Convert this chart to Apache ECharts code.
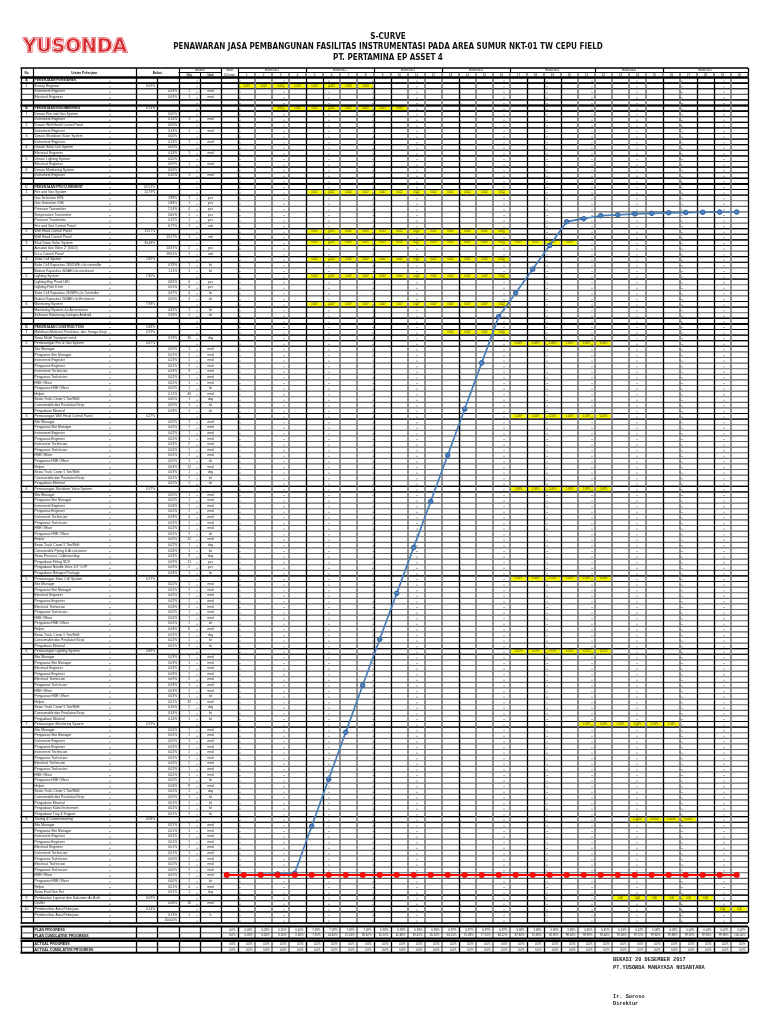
<!DOCTYPE html>
<html><head><meta charset="utf-8">
<script src="https://cdn.jsdelivr.net/npm/echarts@6.0.0/dist/echarts.min.js"></script>
<style>html,body{margin:0;padding:0;background:#fff}#c{width:768px;height:1024px}</style>
</head><body><div id="c"></div>
<script>
// ---------- chart data ----------
const weekLabels = ['1','2','3','4','5','6','7','8','9','10','11','12','13','14','15','16','17','18','19','20','21','22','23','24','25','26','27','28','29','30'];
const categories = ['Start'].concat(weekLabels);
const planProgress = [0.00,0.03,0.03,0.10,0.10,7.09,7.09,7.09,7.09,6.93,6.93,6.93,6.93,6.97,6.97,6.97,6.97,3.58,3.58,3.58,3.58,0.45,0.45,0.14,0.14,0.08,0.08,0.04,0.04,0.02,0.02];
const planCumulative = [0.00,0.03,0.06,0.16,0.26,7.35,14.44,21.53,28.62,35.55,42.48,49.41,56.34,63.31,70.28,77.25,84.22,87.80,91.38,94.96,98.54,98.99,99.44,99.58,99.72,99.80,99.88,99.92,99.96,99.98,100.00];
const actualProgress = [0,0,0,0,0,0,0,0,0,0,0,0,0,0,0,0,0,0,0,0,0,0,0,0,0,0,0,0,0,0,0];
const actualCumulative = [0,0,0,0,0,0,0,0,0,0,0,0,0,0,0,0,0,0,0,0,0,0,0,0,0,0,0,0,0,0,0];
const months = ['Bulan ke-1','Bulan ke-2','Bulan ke-3','Bulan ke-4','Bulan ke-5','Bulan ke-6','Bulan ke-7'];
const monthWeeks = [4,4,4,4,5,4,5];
const titleLines = ['S-CURVE','PENAWARAN JASA PEMBANGUNAN FASILITAS INSTRUMENTASI PADA AREA SUMUR NKT-01 TW CEPU FIELD','PT. PERTAMINA EP ASSET 4'];
const headerTexts = {no:'No', uraian:'Uraian Pekerjaan', bobot:'Bobot', volume:'Volume', qty:'Qty', unit:'Unit', start:'Start', scurve:'S-Curve'};
const summaryLabels = ['PLAN PROGRESS','PLAN CUMULATIVE PROGRESS','ACTUAL PROGRESS','ACTUAL CUMULATIVE PROGRESS'];
const signText = ['BEKASI 20 DESEMBER 2017','PT.YUSONDA MANAYASA NUSANTARA','Ir. Suroso','Direktur'];

// ---------- table content ----------
const crewFG = [['Site Manager','0.02%','1','mnd'],['Pengawas Site Manager','0.02%','1','mnd'],['Instrument Engineer','0.03%','1','mnd'],['Pengawas Engineer','0.02%','1','mnd'],['Instrument Technician','0.03%','3','mnd'],['Pengawas Technician','0.02%','1','mnd'],['HSE Officer','0.02%','1','mnd'],['Pengawas HSE Officer','0.02%','1','lot'],['Helper','0.11%','40','mnd'],['Sewa Truck Crane 5 Ton/Shift','0.05%','1','day'],['Consumable dan Peralatan Kerja','0.05%','1','lot'],['Pengadaan Material','0.03%','1','lot']];
const crewWH = [['Site Manager','0.02%','1','mnd'],['Pengawas Site Manager','0.02%','1','mnd'],['Instrument Engineer','0.02%','1','mnd'],['Pengawas Engineer','0.02%','1','mnd'],['Instrument Technician','0.03%','2','mnd'],['Pengawas Technician','0.02%','1','mnd'],['HSE Officer','0.02%','1','mnd'],['Pengawas HSE Officer','0.02%','1','lot'],['Helper','0.04%','12','mnd'],['Sewa Truck Crane 5 Ton/Shift','0.03%','1','day'],['Consumable dan Peralatan Kerja','0.02%','1','lot'],['Pengadaan Material','0.01%','1','lot']];
const crewSDV = [['Site Manager','0.02%','1','mnd'],['Pengawas Site Manager','0.02%','1','mnd'],['Instrument Engineer','0.03%','1','mnd'],['Pengawas Engineer','0.02%','1','mnd'],['Instrument Technician','0.03%','4','mnd'],['Pengawas Technician','0.02%','1','mnd'],['HSE Officer','0.02%','1','mnd'],['Pengawas HSE Officer','0.02%','1','lot'],['Helper','0.05%','12','mnd'],['Sewa Truck Crane 5 Ton/Shift','0.02%','1','day'],['Consumable Piping & Accessories','0.04%','1','lot'],['Sewa Pressure Calibrator/day','0.03%','3','day'],['Pengadaan Fitting SDV','0.09%','11','pcs'],['Pengadaan Needle Valve 1/2" LOP','0.03%','2','pcs'],['Pengadaan Nitrogen Package','0.03%','1','lot']];
const crewSC = [['Site Manager','0.02%','1','mnd'],['Pengawas Site Manager','0.02%','1','mnd'],['Electrical Engineer','0.02%','1','mnd'],['Pengawas Engineer','0.02%','1','mnd'],['Electrical Technician','0.03%','2','mnd'],['Pengawas Technician','0.02%','1','mnd'],['HSE Officer','0.02%','1','mnd'],['Pengawas HSE Officer','0.02%','1','lot'],['Helper','0.04%','8','mnd'],['Sewa Truck Crane 5 Ton/Shift','0.02%','1','day'],['Consumable dan Peralatan Kerja','0.02%','1','lot'],['Pengadaan Material','0.02%','1','lot']];
const crewLT = [['Site Manager','0.03%','1','mnd'],['Pengawas Site Manager','0.03%','1','mnd'],['Electrical Engineer','0.03%','1','mnd'],['Pengawas Engineer','0.03%','1','mnd'],['Electrical Technician','0.09%','5','mnd'],['Pengawas Technician','0.03%','1','mnd'],['HSE Officer','0.03%','1','mnd'],['Pengawas HSE Officer','0.03%','1','lot'],['Helper','0.21%','32','mnd'],['Sewa Truck Crane 5 Ton/Shift','0.10%','2','day'],['Consumable dan Peralatan Kerja','0.14%','1','lot'],['Pengadaan Material','0.14%','1','lot']];
const crewMON = [['Site Manager','0.02%','1','mnd'],['Pengawas Site Manager','0.02%','1','mnd'],['Instrument Engineer','0.02%','1','mnd'],['Pengawas Engineer','0.02%','1','mnd'],['Instrument Technician','0.02%','2','mnd'],['Pengawas Technician','0.02%','1','mnd'],['Electrical Technician','0.02%','2','mnd'],['Pengawas Technician','0.01%','1','mnd'],['HSE Officer','0.02%','1','mnd'],['Pengawas HSE Officer','0.02%','1','lot'],['Helper','0.03%','8','mnd'],['Sewa Truck Crane 5 Ton/Shift','0.02%','1','day'],['Consumable dan Peralatan Kerja','0.02%','1','lot'],['Pengadaan Material','0.01%','1','lot'],['Pengadaan Kabel Instrument','0.01%','1','lot'],['Pengadaan Tray & Support','0.01%','1','lot']];
const crewTC = [['Site Manager','0.01%','1','mnd'],['Pengawas Site Manager','0.01%','1','mnd'],['Instrument Engineer','0.01%','1','mnd'],['Pengawas Engineer','0.01%','1','mnd'],['Electrical Engineer','0.01%','1','mnd'],['Instrument Technician','0.01%','1','mnd'],['Pengawas Technician','0.00%','1','mnd'],['Electrical Technician','0.01%','1','mnd'],['Pengawas Technician','0.00%','1','mnd'],['HSE Officer','0.01%','1','mnd'],['Pengawas HSE Officer','0.00%','1','lot'],['Helper','0.01%','4','mnd'],['Sewa Fuel Gen Set','0.01%','1','day']];

const L = a => ['', a[0], '', a[1], a[2], a[3], 'L'];
const tableRows = [].concat(
 [['A','PEKERJAAN PERSIAPAN','','','','','S'],
  ['1','Survey Engineer','0.09%','','','','I'],
  ['','Instrument Engineer','','0.03%','1','mnd','L'],
  ['','Electrical Engineer','','0.03%','1','mnd','L'],
  ['','','','','','','B'],
  ['B','PEKERJAAN ENGINEERING','0.74%','','','','S'],
  ['1','Desain Fire and Gas System','','0.00%','','','I'],
  ['','Instrument Engineer','','0.14%','1','mnd','L'],
  ['2','Desain Well Head Control Panel','','0.00%','','','I'],
  ['','Instrument Engineer','','0.14%','1','mnd','L'],
  ['3','Desain Shutdown Valve System','','0.00%','','','I'],
  ['','Instrument Engineer','','0.14%','1','mnd','L'],
  ['4','Desain Solar Cell System','','0.00%','','','I'],
  ['','Electrical Engineer','','0.14%','1','mnd','L'],
  ['5','Desain Lighting System','','0.00%','','','I'],
  ['','Electrical Engineer','','0.09%','1','mnd','L'],
  ['6','Desain Monitoring System','','0.00%','','','I'],
  ['','Instrument Engineer','','0.10%','1','mnd','L'],
  ['','','','','','','B'],
  ['C','PEKERJAAN PROCUREMENT','65.52%','','','','S'],
  ['1','Fire and Gas System','14.79%','','','','I'],
  ['','Gas Detection H2S','','2.88%','1','pcs','L'],
  ['','Gas Detection CH4','','2.88%','1','pcs','L'],
  ['','Pressure Transmitter','','1.54%','4','pcs','L'],
  ['','Temperature Transmitter','','0.60%','1','pcs','L'],
  ['','Pressure Transmitter','','0.12%','1','pcs','L'],
  ['','Fire and Gas Control Panel','','6.77%','1','unit','L'],
  ['2','Well Head Control Panel','13.17%','','','','I'],
  ['','Well Head Control Panel','','13.17%','1','unit','L'],
  ['3','Shut Down Valve System','30.48%','','','','I'],
  ['','Actuator dan Valve 2" (600#)','','10.87%','2','pcs','L'],
  ['','In Lo Control Panel','','19.61%','1','unit','L'],
  ['4','Solar Cell System','1.89%','','','','I'],
  ['','Solar Cell Kapasitas 1800 W/h c/w controller','','0.78%','1','lot','L'],
  ['','Baterai Kapasitas 400AH c/w enclosure','','1.11%','1','lot','L'],
  ['5','Lighting System','2.30%','','','','I'],
  ['','Lighting Exp Proof LED','','0.82%','4','pcs','L'],
  ['','Lighting Pole 6 mtr','','0.51%','4','pcs','L'],
  ['','Solar Cell Kapasitas 260W/h c/w Controller','','0.47%','4','lot','L'],
  ['','Baterai Kapasitas 200AH c/w Enclosure','','0.50%','4','lot','L'],
  ['6','Monitoring System','7.88%','','','','I'],
  ['','Monitoring System c/w Accessories','','4.62%','1','lot','L'],
  ['','Software Monitoring Jaringan Android','','3.26%','1','lot','L'],
  ['','','','','','','B'],
  ['D','PEKERJAAN CONSTRUCTION','5.68%','','','','S'],
  ['1','Mobilisasi Material, Peralatan, dan Tenaga Kerja','0.29%','','','','I'],
  ['','Sewa Mobil Transport untuk','','0.29%','30','day','L'],
  ['2','Pemasangan Fire & Gas System','0.47%','','','','I']],
 crewFG.map(L),
 [['3','Pemasangan Well Head Control Panel','0.27%','','','','I']],
 crewWH.map(L),
 [['4','Pemasangan Shutdown Valve System','0.57%','','','','I']],
 crewSDV.map(L),
 [['5','Pemasangan Solar Cell System','0.27%','','','','I']],
 crewSC.map(L),
 [['6','Pemasangan Lighting System','0.89%','','','','I']],
 crewLT.map(L),
 [['7','Pemasangan Monitoring System','0.29%','','','','I']],
 crewMON.map(L),
 [['8','Testing & Commissioning','0.08%','','','','I']],
 crewTC.map(L),
 [['9','Pembuatan Laporan dan Dokumen As Built','0.09%','','','','I'],
  ['','Drafter','','0.08%','16','mnd','L'],
  ['10','Pembersihan Area Pekerjaan','0.14%','','','','I'],
  ['','Pembersihan Area Pekerjaan','','0.13%','1','ls','L'],
  ['','','','100.00%','','','T']]
);
// [row, first week, last week, cell text]
const yellowCells = [[1,1,8,'0.003'],[5,3,10,'0.001'],[20,5,16,'0.012'],[27,5,16,'0.011'],[29,5,20,'0.011'],[32,5,16,'0.002'],[35,5,16,'0.002'],[40,5,16,'0.007'],[45,13,16,'0.001'],[47,17,22,'0.08%'],[60,17,22,'0.04%'],[73,17,22,'0.09%'],[89,17,22,'0.04%'],[102,17,22,'0.15%'],[115,21,26,'0.04%'],[132,24,27,'0.0014'],[146,23,28,'0.00'],[148,29,30,'0.00']];

// ---------- layout ----------
const FS = '"Liberation Sans","DejaVu Sans",sans-serif';
const FN = '"Liberation Sans Narrow","DejaVu Sans Condensed","Liberation Sans",sans-serif';
const FM = '"Liberation Mono","DejaVu Sans Mono",monospace';
const T_TOP = 68, H_MID = 72.5, B_TOP = 77.5, B_BOT = 923.1;
const RH = (B_BOT - B_TOP) / tableRows.length;
const X_NO = 20.5, X_UR = 32.5, X_B1 = 136, X_B2 = 156.5, X_QTY = 178.5, X_UNIT = 200, X_ST = 221, X_W = 238, CW = 17, X_R = 748;
const wEdge = k => X_W + CW * k;
const colCenter = i => i === 0 ? (X_ST + X_W) / 2 : X_W + CW * (i - 1) + CW / 2;
const blackWeekEdges = [0,4,5,8,9,13,17,18,19,25,27,28,30];

const G = [];
const mctx = document.createElement('canvas').getContext('2d');
function fit(str, fam, wt, target){ mctx.font = wt + ' 20px ' + fam; return 20 * target / mctx.measureText(str).width; }
function ln(x1,y1,x2,y2,c,w,dash,off){ const o={type:'line',silent:true,shape:{x1,y1,x2,y2},style:{stroke:c,lineWidth:w}}; if(dash){o.style.lineDash=dash;o.style.lineDashOffset=off||0;} G.push(o); }
function rc(x,y,w,h,f,s,sw){ G.push({type:'rect',silent:true,shape:{x,y,width:w,height:h},style:{fill:f,stroke:s||null,lineWidth:sw||0}}); }
function tx(x,y,t,size,o){ o=o||{}; const st={text:t,fontSize:size,fontFamily:o.ff||FS,fontWeight:o.fw||'normal',fill:o.fill||'#111',align:o.al||'left',verticalAlign:'middle'}; if(o.stroke){st.stroke=o.stroke;st.lineWidth=o.lw;} G.push({type:'text',silent:true,x,y,style:st}); }

// yellow cells
yellowCells.forEach(([r,s,e,v])=>{
  for(let k=s;k<=e;k++){
    const x = wEdge(k-1), y = B_TOP + r*RH;
    rc(x+1.2, y+0.9, CW-2.4, RH-1.8, '#ffff00', '#c8c800', 0.4);
    tx(x+CW/2, y+RH/2, v, 2.7, {al:'center', fill:'#333'});
  }
});

// horizontal body lines
for(let i=0;i<=tableRows.length;i++){
  const y = B_TOP + i*RH;
  ln(X_NO, y, X_R, y, '#5e5e5e', 1.15);
}
// emphasised lines around section / item / blank rows
tableRows.forEach((r,i)=>{
  const y0 = B_TOP + i*RH, y1 = y0 + RH;
  if(r[6]==='S'){ ln(X_NO,y0,X_R,y0,'#000',1.8); ln(X_NO,y1,X_R,y1,'#000',1.1); }
  else if(r[6]==='I'){ ln(X_NO,y0,X_R,y0,'#000',1.2); ln(X_NO,y1,X_R,y1,'#111',1.1); }
  else if(r[6]==='B'){ ln(X_NO,y0,X_R,y0,'#000',1.4); ln(X_NO,y1,X_R,y1,'#000',1.6); }
});

// summary block geometry
const S_ROWS = [[927.3,932.9],[932.9,938.5],[941.6,947.2],[947.2,952.8]];
const S_SPANS = [[926.6,938.5],[941.0,952.8]];

// vertical lines
function vline(x, y0, y1, black){ if(black) ln(Math.round(x)+0.5,y0,Math.round(x)+0.5,y1,'#000',1.3); else ln(x,y0,x,y1,'#747474',1.45); }
[X_NO, X_UR, X_B1, X_B2, X_QTY, X_UNIT, X_ST].forEach(x=>{ vline(x,B_TOP,B_BOT,true); S_SPANS.forEach(s=>vline(x,s[0],s[1],true)); });
for(let k=0;k<=30;k++){
  const bl = blackWeekEdges.indexOf(k)>=0;
  vline(wEdge(k),B_TOP,B_BOT,bl);
  S_SPANS.forEach(s=>vline(wEdge(k),s[0],s[1],bl));
}
// dotted "-" marks in cells
[110, 197, 240, 284, 329, 373, 417, 460, 504, 547, 592, 637, 682, 724].forEach(x=>{
  ln(x, B_TOP, x, B_BOT, '#333', 0.8, [1.1, RH-1.1], -RH*0.55);
});

// summary block lines
S_SPANS.forEach(s=>{ ln(X_NO,s[0],X_R,s[0],'#000',2); ln(X_NO,s[1],X_R,s[1],'#000',2); });
ln(X_NO,932.9,X_R,932.9,'#444',1); ln(X_NO,947.2,X_R,947.2,'#444',1);
ln(X_NO,B_BOT,X_R,B_BOT,'#000',1.5);

// header
ln(X_NO,T_TOP,X_R,T_TOP,'#000',1.5);
ln(X_NO,B_TOP,X_R,B_TOP,'#000',2);
ln(X_QTY,H_MID,X_ST,H_MID,'#000',1);
ln(X_W,H_MID,X_R,H_MID,'#000',1);
[X_NO,X_UR,X_B1,X_QTY,X_ST,X_W,X_R].forEach(x=>ln(Math.round(x)+0.5,T_TOP,Math.round(x)+0.5,B_TOP,'#000',1.2));
ln(Math.round(X_UNIT)+0.5,H_MID,Math.round(X_UNIT)+0.5,B_TOP,'#000',1);
let acc = 0;
months.forEach((m,i)=>{
  const a = wEdge(acc), b = wEdge(acc+monthWeeks[i]);
  tx((a+b)/2, (T_TOP+H_MID)/2, m, 2.9, {al:'center'});
  ln(Math.round(b)+0.5,T_TOP,Math.round(b)+0.5,H_MID,'#000',1.2);
  acc += monthWeeks[i];
});
weekLabels.forEach((w,k)=>{
  tx(colCenter(k+1), (H_MID+B_TOP)/2, w, 3, {al:'center'});
  ln(wEdge(k+1),H_MID,wEdge(k+1),B_TOP,'#333',0.9);
});
tx((X_NO+X_UR)/2, (T_TOP+B_TOP)/2, headerTexts.no, 3.2, {al:'center', fw:'bold'});
tx((X_UR+X_B1)/2, (T_TOP+B_TOP)/2, headerTexts.uraian, 3.2, {al:'center', fw:'bold'});
tx((X_B1+X_QTY)/2, (T_TOP+B_TOP)/2, headerTexts.bobot, 3.2, {al:'center', fw:'bold'});
tx((X_QTY+X_ST)/2, (T_TOP+H_MID)/2, headerTexts.volume, 3, {al:'center'});
tx((X_QTY+X_UNIT)/2, (H_MID+B_TOP)/2, headerTexts.qty, 3.2, {al:'center', fw:'bold'});
tx((X_UNIT+X_ST)/2, (H_MID+B_TOP)/2, headerTexts.unit, 3.2, {al:'center', fw:'bold'});
tx((X_ST+X_W)/2, (T_TOP+H_MID)/2, headerTexts.start, 3, {al:'center'});
tx((X_ST+X_W)/2, (H_MID+B_TOP)/2, headerTexts.scurve, 3, {al:'center'});

// body texts
tableRows.forEach((r,i)=>{
  const y = B_TOP + i*RH + RH/2;
  const bold = r[6]==='S';
  if(r[0]) tx((X_NO+X_UR)/2, y, r[0], 3.4, {al:'center', fw: bold?'bold':'normal'});
  if(r[1]) tx(X_UR+2, y, r[1], 3.4, {fw: bold?'bold':'normal', fill:'#1a1a1a'});
  if(r[2]) tx(X_B2-1.5, y, r[2], 3.2, {al:'right', fill:'#222'});
  if(r[3]) tx(X_QTY-1.5, y, r[3], 3.2, {al:'right', fill:'#222'});
  if(r[4]) tx((X_QTY+X_UNIT)/2, y, r[4], 3.2, {al:'center', fill:'#222'});
  if(r[5]) tx((X_UNIT+X_ST)/2, y, r[5], 3.2, {al:'center', fill:'#222'});
});

// summary texts
const sumVals = [planProgress, planCumulative, actualProgress, actualCumulative];
summaryLabels.forEach((lab,j)=>{
  const y = (S_ROWS[j][0]+S_ROWS[j][1])/2;
  tx(X_UR+2, y, lab, 3.5, {fw:'bold'});
  sumVals[j].forEach((v,i)=>{
    const t = (j>=2 || i===0) ? v.toFixed(1)+'%' : v.toFixed(2)+'%';
    tx(colCenter(i)+6, y, t, 2.9, {al:'right', fill:'#222'});
  });
});

// logo + titles
const logoSize = fit('YUSONDA', '"DejaVu Sans"', 'bold', 104);
tx(23, 47.5, 'YUSONDA', logoSize, {ff:'"DejaVu Sans"', fw:'bold', fill:'#d7262c', stroke:'#d7262c', lw:1.6});
tx(23, 47.5, 'YUSONDA', logoSize, {ff:'"DejaVu Sans"', fw:'bold', fill:'rgba(0,0,0,0)', stroke:'#ffffff', lw:0.7});
const tSize = fit(titleLines[1], FN, 'bold', 430);
tx(388, 36.8, titleLines[0], tSize, {ff:FN, fw:'bold', al:'center'});
tx(388, 47, titleLines[1], tSize, {ff:FN, fw:'bold', al:'center'});
tx(388, 57.5, titleLines[2], tSize, {ff:FN, fw:'bold', al:'center'});

// signature
const mSize = fit(signText[1], FM, 'bold', 92);
tx(613, 959.3, signText[0], mSize, {ff:FM, fw:'bold', fill:'#222'});
tx(613, 967.3, signText[1], mSize, {ff:FM, fw:'bold', fill:'#222'});
tx(613, 996.7, signText[2], mSize, {ff:FM, fw:'bold', fill:'#222'});
tx(613, 1004, signText[3], mSize, {ff:FM, fw:'bold', fill:'#222'});

// ---------- chart ----------
const chart = echarts.init(document.getElementById('c'));
chart.setOption({
  animation: false,
  backgroundColor: '#ffffff',
  graphic: { elements: G },
  grid: { left: 226.7, right: 31.3, top: 212, bottom: 149, containLabel: false },
  xAxis: { type: 'category', data: categories, boundaryGap: false, show: false },
  yAxis: { type: 'value', min: 0, max: 100, show: false },
  series: [
    { type: 'line', name: 'Plan Cumulative', data: planCumulative, showAllSymbol: true, symbol: 'circle', symbolSize: 4.6, z: 3,
      lineStyle: { color: '#4a7ebb', width: 1.7 }, itemStyle: { color: '#4f82c0', borderColor: '#2d5c99', borderWidth: 0.9 } },
    { type: 'line', name: 'Actual Cumulative', data: actualCumulative, showAllSymbol: true, symbol: 'circle', symbolSize: 5.6, z: 4,
      lineStyle: { color: '#ff0000', width: 2.2 }, itemStyle: { color: '#ff0a0a', borderColor: '#e00000', borderWidth: 0.5 } }
  ]
});
</script>
</body></html>
